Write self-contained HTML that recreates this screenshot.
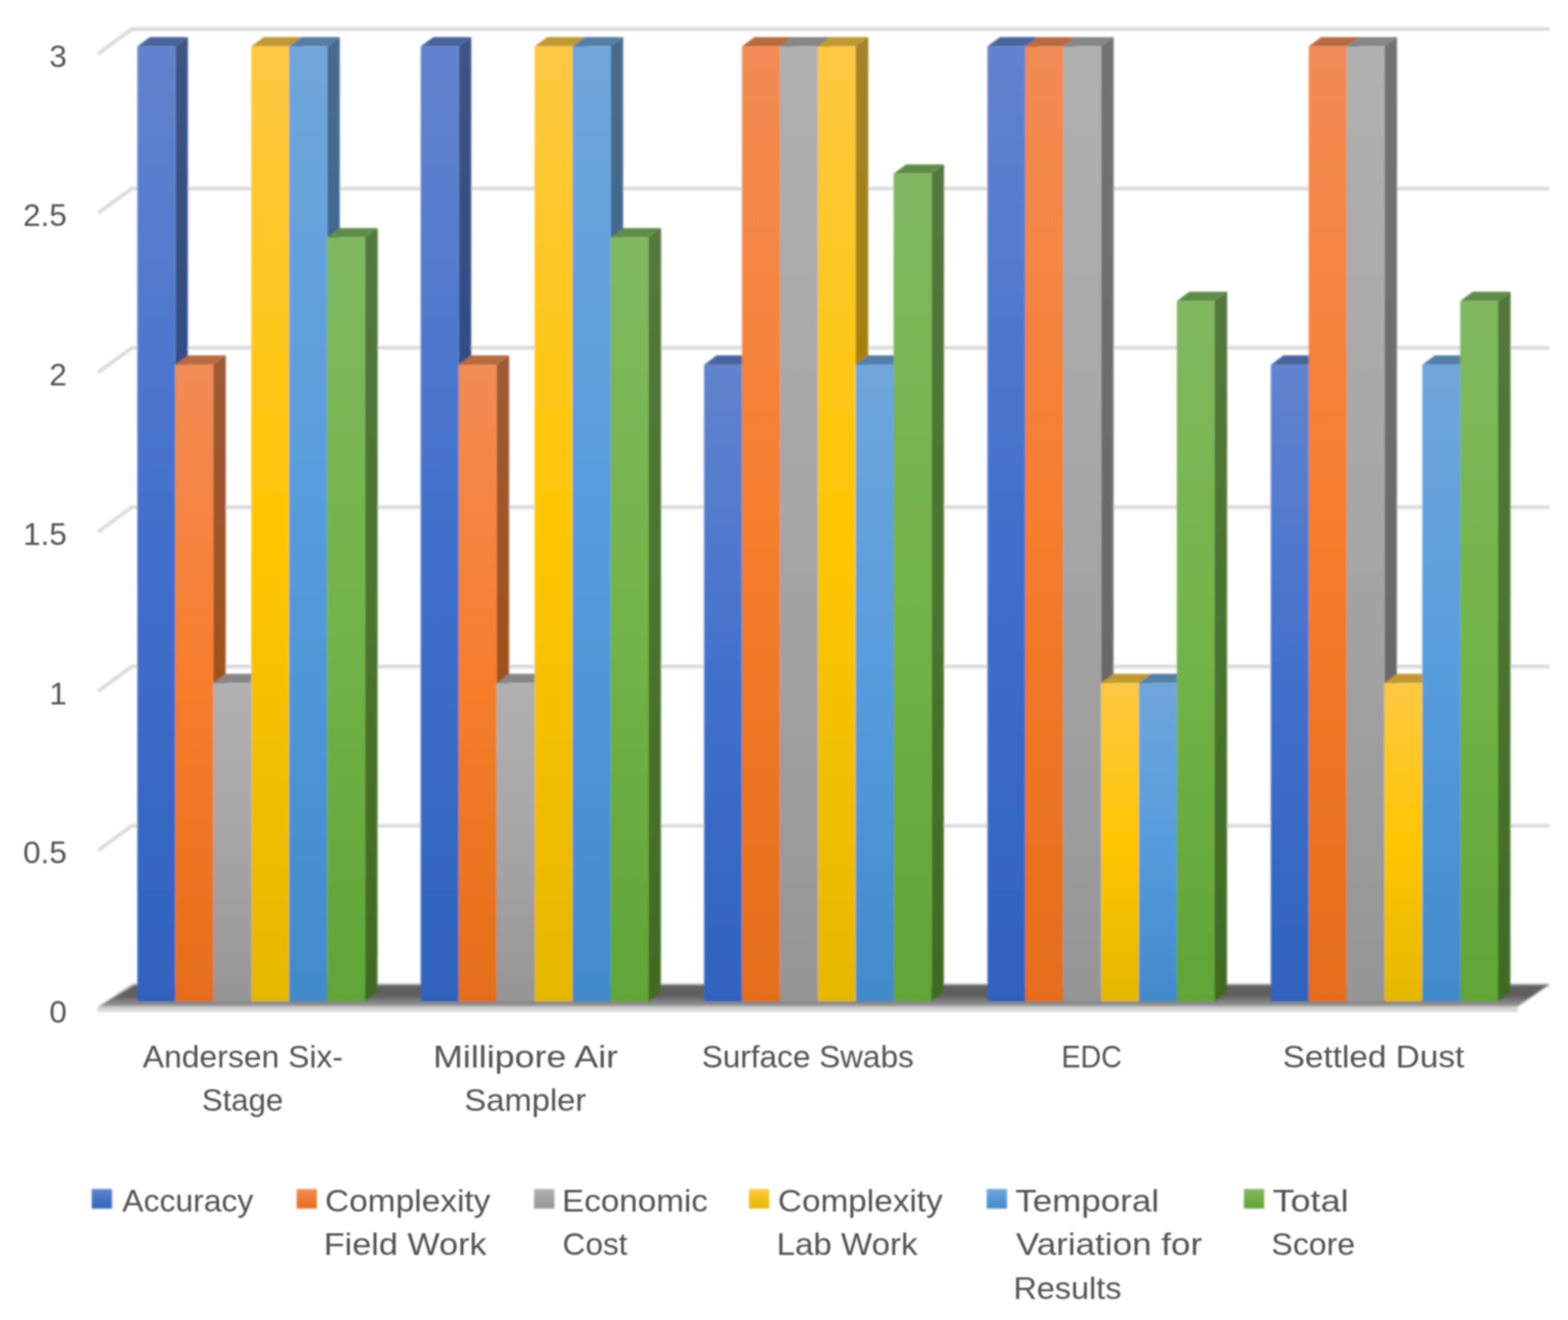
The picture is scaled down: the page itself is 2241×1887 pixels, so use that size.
<!DOCTYPE html>
<html><head><meta charset="utf-8"><title>Chart</title>
<style>html,body{margin:0;padding:0;background:#fff;}body{width:2241px;height:1887px;overflow:hidden;}svg{display:block;}</style>
</head><body>
<svg width="2241" height="1887" viewBox="0 0 2241 1887">
<defs>
<linearGradient id="fg0" x1="0" y1="0" x2="0" y2="1"><stop offset="0" stop-color="#6283CD"/><stop offset="0.5" stop-color="#4170CC"/><stop offset="1" stop-color="#2F62BD"/></linearGradient><linearGradient id="sg0" x1="0" y1="0" x2="0" y2="1"><stop offset="0" stop-color="#3F5484"/><stop offset="0.5" stop-color="#2A4884"/><stop offset="1" stop-color="#1E3F7A"/></linearGradient><linearGradient id="lg0" x1="0" y1="0" x2="0" y2="1"><stop offset="0" stop-color="#6283CD"/><stop offset="1" stop-color="#2F62BD"/></linearGradient><linearGradient id="fg1" x1="0" y1="0" x2="0" y2="1"><stop offset="0" stop-color="#F28B55"/><stop offset="0.5" stop-color="#F67D2C"/><stop offset="1" stop-color="#E56D19"/></linearGradient><linearGradient id="sg1" x1="0" y1="0" x2="0" y2="1"><stop offset="0" stop-color="#9C5A37"/><stop offset="0.5" stop-color="#9F511C"/><stop offset="1" stop-color="#944610"/></linearGradient><linearGradient id="lg1" x1="0" y1="0" x2="0" y2="1"><stop offset="0" stop-color="#F28B55"/><stop offset="1" stop-color="#E56D19"/></linearGradient><linearGradient id="fg2" x1="0" y1="0" x2="0" y2="1"><stop offset="0" stop-color="#B0B0B0"/><stop offset="0.5" stop-color="#A6A6A6"/><stop offset="1" stop-color="#959595"/></linearGradient><linearGradient id="sg2" x1="0" y1="0" x2="0" y2="1"><stop offset="0" stop-color="#727272"/><stop offset="0.5" stop-color="#6B6B6B"/><stop offset="1" stop-color="#606060"/></linearGradient><linearGradient id="lg2" x1="0" y1="0" x2="0" y2="1"><stop offset="0" stop-color="#B0B0B0"/><stop offset="1" stop-color="#959595"/></linearGradient><linearGradient id="fg3" x1="0" y1="0" x2="0" y2="1"><stop offset="0" stop-color="#FEC843"/><stop offset="0.5" stop-color="#FEC602"/><stop offset="1" stop-color="#E5B700"/></linearGradient><linearGradient id="sg3" x1="0" y1="0" x2="0" y2="1"><stop offset="0" stop-color="#A4812B"/><stop offset="0.5" stop-color="#A48001"/><stop offset="1" stop-color="#947600"/></linearGradient><linearGradient id="lg3" x1="0" y1="0" x2="0" y2="1"><stop offset="0" stop-color="#FEC843"/><stop offset="1" stop-color="#E5B700"/></linearGradient><linearGradient id="fg4" x1="0" y1="0" x2="0" y2="1"><stop offset="0" stop-color="#6FA6DB"/><stop offset="0.5" stop-color="#569CDC"/><stop offset="1" stop-color="#428ACA"/></linearGradient><linearGradient id="sg4" x1="0" y1="0" x2="0" y2="1"><stop offset="0" stop-color="#486B8D"/><stop offset="0.5" stop-color="#37658E"/><stop offset="1" stop-color="#2B5982"/></linearGradient><linearGradient id="lg4" x1="0" y1="0" x2="0" y2="1"><stop offset="0" stop-color="#6FA6DB"/><stop offset="1" stop-color="#428ACA"/></linearGradient><linearGradient id="fg5" x1="0" y1="0" x2="0" y2="1"><stop offset="0" stop-color="#80B860"/><stop offset="0.5" stop-color="#72B447"/><stop offset="1" stop-color="#61A436"/></linearGradient><linearGradient id="sg5" x1="0" y1="0" x2="0" y2="1"><stop offset="0" stop-color="#53773E"/><stop offset="0.5" stop-color="#4A742E"/><stop offset="1" stop-color="#3F6A23"/></linearGradient><linearGradient id="lg5" x1="0" y1="0" x2="0" y2="1"><stop offset="0" stop-color="#80B860"/><stop offset="1" stop-color="#61A436"/></linearGradient><linearGradient id="floorg" x1="0" y1="0" x2="0" y2="1"><stop offset="0" stop-color="#6A6A6A"/><stop offset="0.12" stop-color="#5E5E5E"/><stop offset="0.5" stop-color="#5E5E5E"/><stop offset="1" stop-color="#A0A0A0"/></linearGradient>
<filter id="soft" x="-2%" y="-2%" width="104%" height="104%"><feGaussianBlur stdDeviation="1.4"/></filter>
<filter id="softf" x="-2%" y="-50%" width="104%" height="200%"><feGaussianBlur stdDeviation="0.9"/></filter>
<filter id="softt" x="-2%" y="-2%" width="104%" height="104%"><feGaussianBlur stdDeviation="1.1"/></filter>
</defs>
<rect width="2241" height="1887" fill="#FFFFFF"/>
<g filter="url(#soft)">
<g fill="none" stroke="#DCDCDC" stroke-width="5.5"><polyline points="140,1443.8 188.5,1408.4 2214.6,1408.4"/><polyline points="140,1216 188.5,1180.6 2214.6,1180.6"/><polyline points="140,988.2 188.5,952.8 2214.6,952.8"/><polyline points="140,760.4 188.5,725 2214.6,725"/><polyline points="140,532.6 188.5,497.2 2214.6,497.2"/><polyline points="140,304.8 188.5,269.4 2214.6,269.4"/><polyline points="140,77 188.5,41.6 2214.6,41.6"/></g>
<g filter="url(#softf)"><polygon fill="url(#floorg)" points="192.0,1407.6 2214.0,1407.6 2168.6,1439.2 140.0,1439.2"/><rect x="140.0" y="1439.2" width="2028.6" height="7.4" fill="#D5D5D5"/></g>
<polygon fill="url(#sg0)" points="250.57,66.3 268.57,53 268.17,1418.3 250.57,1431.6"/><polygon fill="#4A649C" points="196.3,66.3 214.3,53 268.57,53 250.57,66.3"/><rect fill="url(#fg0)" x="196.3" y="66.3" width="54.27" height="1365.3"/><polygon fill="url(#sg1)" points="304.84,521.4 322.71,508.1 322.44,1418.3 304.84,1431.6"/><polygon fill="#B86A41" points="250.57,521.4 268.44,508.1 322.71,508.1 304.84,521.4"/><rect fill="url(#fg1)" x="250.57" y="521.4" width="54.27" height="910.2"/><polygon fill="url(#sg2)" points="359.11,976.5 376.84,963.2 376.71,1418.3 359.11,1431.6"/><polygon fill="#868686" points="304.84,976.5 322.57,963.2 376.84,963.2 359.11,976.5"/><rect fill="url(#fg2)" x="304.84" y="976.5" width="54.27" height="455.1"/><polygon fill="url(#sg3)" points="413.38,66.3 431.38,53 430.98,1418.3 413.38,1431.6"/><polygon fill="#C19833" points="359.11,66.3 377.11,53 431.38,53 413.38,66.3"/><rect fill="url(#fg3)" x="359.11" y="66.3" width="54.27" height="1365.3"/><polygon fill="url(#sg4)" points="467.65,66.3 485.65,53 485.25,1418.3 467.65,1431.6"/><polygon fill="#547EA6" points="413.38,66.3 431.38,53 485.65,53 467.65,66.3"/><rect fill="url(#fg4)" x="413.38" y="66.3" width="54.27" height="1365.3"/><polygon fill="url(#sg5)" points="521.92,339.36 539.84,326.06 539.52,1418.3 521.92,1431.6"/><polygon fill="#618C49" points="467.65,339.36 485.57,326.06 539.84,326.06 521.92,339.36"/><rect fill="url(#fg5)" x="467.65" y="339.36" width="54.27" height="1092.24"/><polygon fill="url(#sg0)" points="655.57,66.3 673.57,53 673.17,1418.3 655.57,1431.6"/><polygon fill="#4A649C" points="601.3,66.3 619.3,53 673.57,53 655.57,66.3"/><rect fill="url(#fg0)" x="601.3" y="66.3" width="54.27" height="1365.3"/><polygon fill="url(#sg1)" points="709.84,521.4 727.71,508.1 727.44,1418.3 709.84,1431.6"/><polygon fill="#B86A41" points="655.57,521.4 673.44,508.1 727.71,508.1 709.84,521.4"/><rect fill="url(#fg1)" x="655.57" y="521.4" width="54.27" height="910.2"/><polygon fill="url(#sg2)" points="764.11,976.5 781.84,963.2 781.71,1418.3 764.11,1431.6"/><polygon fill="#868686" points="709.84,976.5 727.57,963.2 781.84,963.2 764.11,976.5"/><rect fill="url(#fg2)" x="709.84" y="976.5" width="54.27" height="455.1"/><polygon fill="url(#sg3)" points="818.38,66.3 836.38,53 835.98,1418.3 818.38,1431.6"/><polygon fill="#C19833" points="764.11,66.3 782.11,53 836.38,53 818.38,66.3"/><rect fill="url(#fg3)" x="764.11" y="66.3" width="54.27" height="1365.3"/><polygon fill="url(#sg4)" points="872.65,66.3 890.65,53 890.25,1418.3 872.65,1431.6"/><polygon fill="#547EA6" points="818.38,66.3 836.38,53 890.65,53 872.65,66.3"/><rect fill="url(#fg4)" x="818.38" y="66.3" width="54.27" height="1365.3"/><polygon fill="url(#sg5)" points="926.92,339.36 944.84,326.06 944.52,1418.3 926.92,1431.6"/><polygon fill="#618C49" points="872.65,339.36 890.57,326.06 944.84,326.06 926.92,339.36"/><rect fill="url(#fg5)" x="872.65" y="339.36" width="54.27" height="1092.24"/><polygon fill="url(#sg0)" points="1060.47,521.4 1078.34,508.1 1078.07,1418.3 1060.47,1431.6"/><polygon fill="#4A649C" points="1006.3,521.4 1024.17,508.1 1078.34,508.1 1060.47,521.4"/><rect fill="url(#fg0)" x="1006.3" y="521.4" width="54.17" height="910.2"/><polygon fill="url(#sg1)" points="1114.64,66.3 1132.64,53 1132.24,1418.3 1114.64,1431.6"/><polygon fill="#B86A41" points="1060.47,66.3 1078.47,53 1132.64,53 1114.64,66.3"/><rect fill="url(#fg1)" x="1060.47" y="66.3" width="54.17" height="1365.3"/><polygon fill="url(#sg2)" points="1168.81,66.3 1186.81,53 1186.41,1418.3 1168.81,1431.6"/><polygon fill="#868686" points="1114.64,66.3 1132.64,53 1186.81,53 1168.81,66.3"/><rect fill="url(#fg2)" x="1114.64" y="66.3" width="54.17" height="1365.3"/><polygon fill="url(#sg3)" points="1222.98,66.3 1240.98,53 1240.58,1418.3 1222.98,1431.6"/><polygon fill="#C19833" points="1168.81,66.3 1186.81,53 1240.98,53 1222.98,66.3"/><rect fill="url(#fg3)" x="1168.81" y="66.3" width="54.17" height="1365.3"/><polygon fill="url(#sg4)" points="1277.15,521.4 1295.02,508.1 1294.75,1418.3 1277.15,1431.6"/><polygon fill="#547EA6" points="1222.98,521.4 1240.85,508.1 1295.02,508.1 1277.15,521.4"/><rect fill="url(#fg4)" x="1222.98" y="521.4" width="54.17" height="910.2"/><polygon fill="url(#sg5)" points="1331.32,248.34 1349.27,235.04 1348.92,1418.3 1331.32,1431.6"/><polygon fill="#618C49" points="1277.15,248.34 1295.1,235.04 1349.27,235.04 1331.32,248.34"/><rect fill="url(#fg5)" x="1277.15" y="248.34" width="54.17" height="1183.26"/><polygon fill="url(#sg0)" points="1465.42,66.3 1483.42,53 1483.02,1418.3 1465.42,1431.6"/><polygon fill="#4A649C" points="1411.3,66.3 1429.3,53 1483.42,53 1465.42,66.3"/><rect fill="url(#fg0)" x="1411.3" y="66.3" width="54.12" height="1365.3"/><polygon fill="url(#sg1)" points="1519.54,66.3 1537.54,53 1537.14,1418.3 1519.54,1431.6"/><polygon fill="#B86A41" points="1465.42,66.3 1483.42,53 1537.54,53 1519.54,66.3"/><rect fill="url(#fg1)" x="1465.42" y="66.3" width="54.12" height="1365.3"/><polygon fill="url(#sg2)" points="1573.66,66.3 1591.66,53 1591.26,1418.3 1573.66,1431.6"/><polygon fill="#868686" points="1519.54,66.3 1537.54,53 1591.66,53 1573.66,66.3"/><rect fill="url(#fg2)" x="1519.54" y="66.3" width="54.12" height="1365.3"/><polygon fill="url(#sg3)" points="1627.78,976.5 1645.51,963.2 1645.38,1418.3 1627.78,1431.6"/><polygon fill="#C19833" points="1573.66,976.5 1591.39,963.2 1645.51,963.2 1627.78,976.5"/><rect fill="url(#fg3)" x="1573.66" y="976.5" width="54.12" height="455.1"/><polygon fill="url(#sg4)" points="1681.9,976.5 1699.63,963.2 1699.5,1418.3 1681.9,1431.6"/><polygon fill="#547EA6" points="1627.78,976.5 1645.51,963.2 1699.63,963.2 1681.9,976.5"/><rect fill="url(#fg4)" x="1627.78" y="976.5" width="54.12" height="455.1"/><polygon fill="url(#sg5)" points="1736.02,430.38 1753.91,417.08 1753.62,1418.3 1736.02,1431.6"/><polygon fill="#618C49" points="1681.9,430.38 1699.79,417.08 1753.91,417.08 1736.02,430.38"/><rect fill="url(#fg5)" x="1681.9" y="430.38" width="54.12" height="1001.22"/><polygon fill="url(#sg0)" points="1870.42,521.4 1888.29,508.1 1888.02,1418.3 1870.42,1431.6"/><polygon fill="#4A649C" points="1816.3,521.4 1834.17,508.1 1888.29,508.1 1870.42,521.4"/><rect fill="url(#fg0)" x="1816.3" y="521.4" width="54.12" height="910.2"/><polygon fill="url(#sg1)" points="1924.54,66.3 1942.54,53 1942.14,1418.3 1924.54,1431.6"/><polygon fill="#B86A41" points="1870.42,66.3 1888.42,53 1942.54,53 1924.54,66.3"/><rect fill="url(#fg1)" x="1870.42" y="66.3" width="54.12" height="1365.3"/><polygon fill="url(#sg2)" points="1978.66,66.3 1996.66,53 1996.26,1418.3 1978.66,1431.6"/><polygon fill="#868686" points="1924.54,66.3 1942.54,53 1996.66,53 1978.66,66.3"/><rect fill="url(#fg2)" x="1924.54" y="66.3" width="54.12" height="1365.3"/><polygon fill="url(#sg3)" points="2032.78,976.5 2050.51,963.2 2050.38,1418.3 2032.78,1431.6"/><polygon fill="#C19833" points="1978.66,976.5 1996.39,963.2 2050.51,963.2 2032.78,976.5"/><rect fill="url(#fg3)" x="1978.66" y="976.5" width="54.12" height="455.1"/><polygon fill="url(#sg4)" points="2086.9,521.4 2104.77,508.1 2104.5,1418.3 2086.9,1431.6"/><polygon fill="#547EA6" points="2032.78,521.4 2050.65,508.1 2104.77,508.1 2086.9,521.4"/><rect fill="url(#fg4)" x="2032.78" y="521.4" width="54.12" height="910.2"/><polygon fill="url(#sg5)" points="2141.02,430.38 2158.91,417.08 2158.62,1418.3 2141.02,1431.6"/><polygon fill="#618C49" points="2086.9,430.38 2104.79,417.08 2158.91,417.08 2141.02,430.38"/><rect fill="url(#fg5)" x="2086.9" y="430.38" width="54.12" height="1001.22"/>
<rect x="131.1" y="1699.7" width="29" height="28" fill="url(#lg0)"/><rect x="424" y="1699.7" width="29" height="28" fill="url(#lg1)"/><rect x="763.3" y="1699.7" width="29" height="28" fill="url(#lg2)"/><rect x="1070.4" y="1699.7" width="29" height="28" fill="url(#lg3)"/><rect x="1410.2" y="1699.7" width="29" height="28" fill="url(#lg4)"/><rect x="1777.8" y="1699.7" width="29" height="28" fill="url(#lg5)"/>
</g>
<g font-family="'Liberation Sans', Arial, sans-serif" font-size="45" fill="#525252" filter="url(#softt)">
<text x="95.5" y="1462.1" text-anchor="end">0</text><text x="95.5" y="1234.35" text-anchor="end">0.5</text><text x="95.5" y="1006.6" text-anchor="end">1</text><text x="95.5" y="778.85" text-anchor="end">1.5</text><text x="95.5" y="551.1" text-anchor="end">2</text><text x="95.5" y="323.35" text-anchor="end">2.5</text><text x="95.5" y="95.6" text-anchor="end">3</text><text x="204.05" y="1525.8" textLength="286.17" lengthAdjust="spacingAndGlyphs">Andersen Six-</text><text x="288.46" y="1587.6" textLength="116.34" lengthAdjust="spacingAndGlyphs">Stage</text><text x="619.03" y="1525.8" textLength="264.29" lengthAdjust="spacingAndGlyphs">Millipore Air</text><text x="663.88" y="1587.6" textLength="174.07" lengthAdjust="spacingAndGlyphs">Sampler</text><text x="1002.88" y="1525.8" textLength="303.18" lengthAdjust="spacingAndGlyphs">Surface Swabs</text><text x="1516.93" y="1525.8" textLength="86.45" lengthAdjust="spacingAndGlyphs">EDC</text><text x="1833.3" y="1525.8" textLength="259.49" lengthAdjust="spacingAndGlyphs">Settled Dust</text><text x="174.84" y="1732" textLength="187.27" lengthAdjust="spacingAndGlyphs">Accuracy</text><text x="464.46" y="1732" textLength="236.54" lengthAdjust="spacingAndGlyphs">Complexity</text><text x="462.66" y="1793.6" textLength="232.87" lengthAdjust="spacingAndGlyphs">Field Work</text><text x="803.19" y="1732" textLength="208.61" lengthAdjust="spacingAndGlyphs">Economic</text><text x="804.09" y="1793.6" textLength="92.7" lengthAdjust="spacingAndGlyphs">Cost</text><text x="1111.83" y="1732" textLength="235.49" lengthAdjust="spacingAndGlyphs">Complexity</text><text x="1110.03" y="1793.6" textLength="201.5" lengthAdjust="spacingAndGlyphs">Lab Work</text><text x="1451.1" y="1732" textLength="205.5" lengthAdjust="spacingAndGlyphs">Temporal</text><text x="1452" y="1793.6" textLength="266.11" lengthAdjust="spacingAndGlyphs">Variation for</text><text x="1448.4" y="1856.5" textLength="154.4" lengthAdjust="spacingAndGlyphs">Results</text><text x="1818.89" y="1732" textLength="108.5" lengthAdjust="spacingAndGlyphs">Total</text><text x="1817.09" y="1793.6" textLength="119.66" lengthAdjust="spacingAndGlyphs">Score</text>
</g>
</svg>
</body></html>
